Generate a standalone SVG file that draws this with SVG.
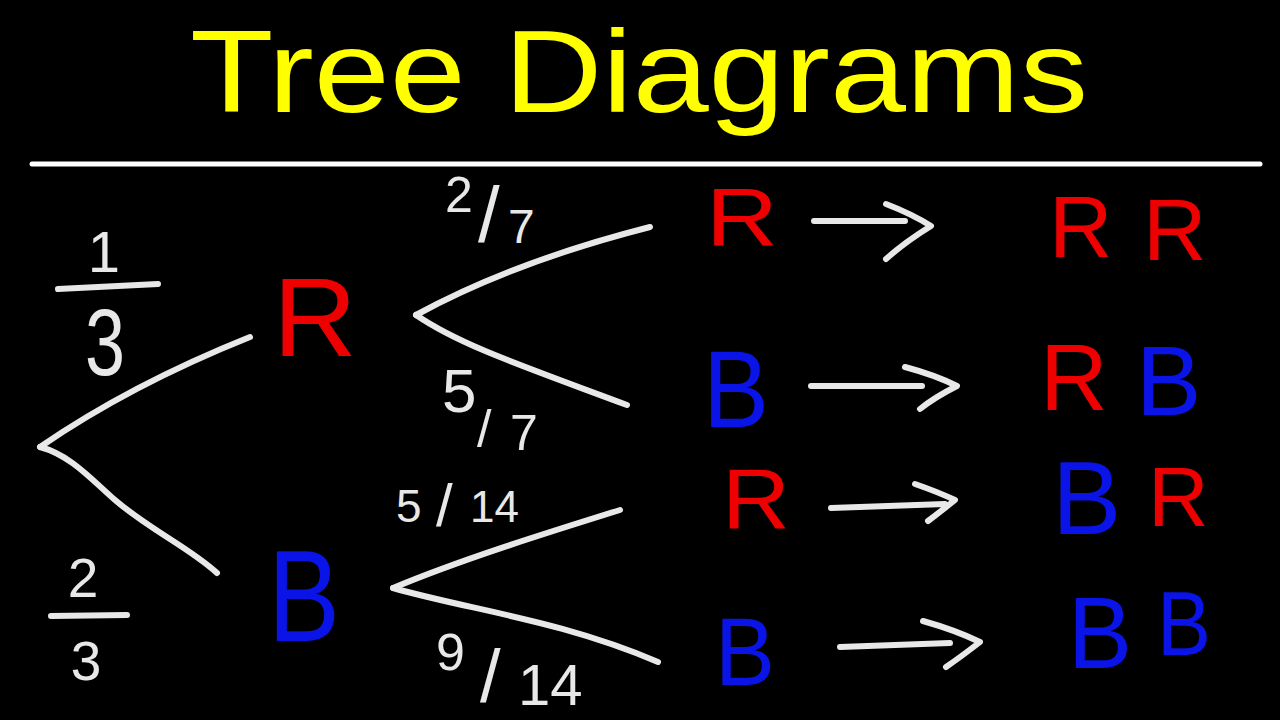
<svg xmlns="http://www.w3.org/2000/svg" width="1280" height="720" viewBox="0 0 1280 720">
<style>
.bg{fill:#000}
.title{font-family:"Liberation Sans",Arial,sans-serif;font-size:116px;fill:#ffff00}
.ln{fill:none;stroke:#e8e8e8;stroke-width:6;stroke-linecap:round;stroke-linejoin:round}
.num{font-family:"Liberation Sans",Arial,sans-serif;fill:#e8e8e8}
.r{font-family:"Liberation Sans",Arial,sans-serif;fill:#ee0000}
.b{font-family:"Liberation Sans",Arial,sans-serif;fill:#0a14e6}
</style>
<rect class="bg" x="0" y="0" width="1280" height="720"/>
<g id="title">
<text class="title" x="190" y="112" textLength="898" lengthAdjust="spacingAndGlyphs">Tree Diagrams</text>
<line x1="32" y1="164" x2="1260" y2="164" stroke="#ffffff" stroke-width="5" stroke-linecap="round"/>
</g>
<g id="connectors">
<path class="ln" d="M250,337 C200,357 120,392 40,447"/>
<path class="ln" d="M40,447 C70,455 90,478 115,500 C150,530 190,548 217,573"/>
<path class="ln" d="M650,227 C560,250 480,280 416,315"/>
<path class="ln" d="M416,315 C460,345 520,365 627,405"/>
<path class="ln" d="M620,510 C540,535 460,560 393,588"/>
<path class="ln" d="M393,588 C470,610 560,620 658,662"/>
<path class="ln" d="M814,221 L905,221 M886,204 Q912,214 931,226 Q905,242 886,259"/>
<path class="ln" d="M811,386 L922,386 M905,367 Q935,375 957,386 Q935,397 920,409"/>
<path class="ln" d="M831,508 L945,504 M915,484 Q938,492 955,500 Q940,512 928,521"/>
<path class="ln" d="M840,647 L950,643 M923,621 Q955,630 980,642 Q962,656 946,667"/>
</g>
<g id="p1-3">
<text class="num" font-size="58" x="104" y="272" text-anchor="middle">1</text>
<path class="ln" d="M58,289 L158,284"/>
<text class="num" font-size="95" x="105" y="375" text-anchor="middle" textLength="40" lengthAdjust="spacingAndGlyphs">3</text>
</g>
<g id="p2-3">
<text class="num" font-size="55" x="83" y="597" text-anchor="middle">2</text>
<path class="ln" d="M51,616 L127,615"/>
<text class="num" font-size="55" x="86" y="680" text-anchor="middle">3</text>
</g>
<g id="node-R">
<text class="r" font-size="112" x="273" y="356" textLength="84" lengthAdjust="spacingAndGlyphs">R</text>
</g>
<g id="node-B">
<text class="b" font-size="130" x="268" y="641" textLength="72" lengthAdjust="spacingAndGlyphs">B</text>
</g>
<g id="p2-7">
<text class="num" font-size="50"><tspan x="445" y="212">2</tspan><tspan x="478" y="242" font-size="78">/</tspan><tspan x="508" y="243" font-size="48">7</tspan></text>
</g>
<g id="p5-7">
<text class="num" font-size="62"><tspan x="442" y="412">5</tspan><tspan x="477" y="447" font-size="52">/</tspan><tspan x="510" y="450" font-size="50">7</tspan></text>
</g>
<g id="p5-14">
<text class="num" font-size="46"><tspan x="396" y="522">5</tspan><tspan x="436" y="526" font-size="60">/</tspan><tspan x="470" y="522" font-size="44">14</tspan></text>
</g>
<g id="p9-14">
<text class="num" font-size="52"><tspan x="436" y="670">9</tspan><tspan x="480" y="702" font-size="74">/</tspan><tspan x="518" y="705" font-size="58">14</tspan></text>
</g>
<g id="node-RR">
<text class="r" font-size="82" x="706" y="245" textLength="72" lengthAdjust="spacingAndGlyphs">R</text>
</g>
<g id="node-RB">
<text class="b" font-size="110" x="703" y="427" textLength="66" lengthAdjust="spacingAndGlyphs">B</text>
</g>
<g id="node-BR">
<text class="r" font-size="85" x="722" y="528" textLength="68" lengthAdjust="spacingAndGlyphs">R</text>
</g>
<g id="node-BB">
<text class="b" font-size="96" x="715" y="685" textLength="60" lengthAdjust="spacingAndGlyphs">B</text>
</g>
<g id="out-RR">
<text class="r" font-size="88"><tspan x="1049" y="257">R</tspan><tspan x="1143" y="260">R</tspan></text>
</g>
<g id="out-RB">
<text class="r" font-size="94" x="1040" y="410">R</text>
<text class="b" font-size="98" x="1136" y="415">B</text>
</g>
<g id="out-BR">
<text class="b" font-size="104" x="1052" y="534">B</text>
<text class="r" font-size="84" x="1148" y="526">R</text>
</g>
<g id="out-BB">
<text class="b" font-size="102" x="1068" y="668" textLength="64" lengthAdjust="spacingAndGlyphs">B</text>
<text class="b" font-size="90" x="1157" y="655" textLength="54" lengthAdjust="spacingAndGlyphs">B</text>
</g>
</svg>
